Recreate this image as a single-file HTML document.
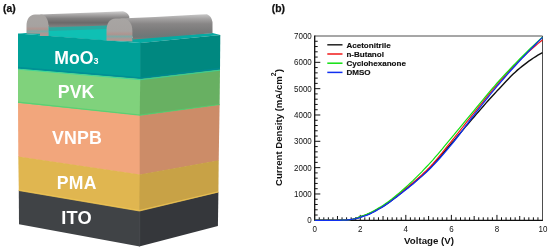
<!DOCTYPE html>
<html><head><meta charset="utf-8"><title>Figure</title>
<style>html,body{margin:0;padding:0;background:#fff}svg{display:block}</style></head>
<body>
<svg width="550" height="251" viewBox="0 0 550 251">
<defs>
<linearGradient id="bar1" x1="0" y1="0" x2="0" y2="1"><stop offset="0" stop-color="#cfcfcf"/><stop offset="0.22" stop-color="#a6a4a4"/><stop offset="0.45" stop-color="#807e7e"/><stop offset="0.7" stop-color="#6c6a6a"/><stop offset="0.88" stop-color="#7c7a7a"/><stop offset="1" stop-color="#6e8e8a"/></linearGradient>
<linearGradient id="bar2" x1="0" y1="0" x2="0" y2="1"><stop offset="0" stop-color="#c8c8c8"/><stop offset="0.18" stop-color="#a4a2a2"/><stop offset="0.38" stop-color="#888686"/><stop offset="0.65" stop-color="#7a7a7a"/><stop offset="0.9" stop-color="#6c7878"/><stop offset="1" stop-color="#8a7a76"/></linearGradient>
<linearGradient id="face" x1="0" y1="0" x2="0" y2="1"><stop offset="0" stop-color="#a8a5a3"/><stop offset="0.55" stop-color="#a6a2a0"/><stop offset="0.68" stop-color="#b0948f"/><stop offset="0.78" stop-color="#7fa8a4"/><stop offset="0.9" stop-color="#b09692"/><stop offset="1" stop-color="#a89a96"/></linearGradient>
<linearGradient id="topf" x1="0" y1="0" x2="0" y2="1"><stop offset="0" stop-color="#2a9c98"/><stop offset="0.5" stop-color="#22bdb4"/><stop offset="1" stop-color="#18b4ac"/></linearGradient>
</defs>
<rect width="550" height="251" fill="#fff"/>
<polygon points="18,33.5 140.5,43 220.3,35 212.5,33 133,38 107,23.5 49,26 26.5,33" fill="#05aaa2"/>
<polygon points="48,35.8 107,40.4 107,23.5 48,26" fill="#0fc0b4"/>
<polygon points="49,27 107,25 107,29 49,31" fill="#2aa8a0"/>
<polygon points="18.0,33.5 140.8,43.0 140.8,79.2 18.0,69.3" fill="#00a098"/>
<polygon points="140.2,43.0 220.3,35.0 220.0,70.0 140.2,79.2" fill="#008880"/>
<polygon points="18.0,68.8 140.8,78.7 140.3,116.1 18.0,103.4" fill="#80d27c"/>
<polygon points="140.2,78.7 220.0,69.5 219.6,105.3 139.7,116.1" fill="#68b062"/>
<polygon points="18.0,102.9 140.3,115.6 140.3,175.0 18.3,156.9" fill="#f2a67c"/>
<polygon points="139.7,115.6 219.6,104.8 218.7,160.8 139.7,175.0" fill="#cc8c68"/>
<polygon points="18.3,156.4 140.3,174.5 139.8,211.5 18.8,191.1" fill="#e0b650"/>
<polygon points="139.7,174.5 218.7,160.3 218.4,192.8 139.2,211.5" fill="#c8a246"/>
<polygon points="18.8,190.6 139.8,211.0 139.8,246.5 19.0,224.2" fill="#404346"/>
<polygon points="139.2,211.0 218.4,192.3 217.9,226.0 139.2,246.5" fill="#35373b"/>
<path d="M18 67.6 L140.5 78.1 L220 68.6" fill="none" stroke="#008a94" stroke-width="1.6" opacity="0.7"/>
<path d="M18 69.2 L140.5 79.7 L220 70.2" fill="none" stroke="#30d8a0" stroke-width="1" opacity="0.8"/>
<path d="M18 102.2 L140 115.1 L219.6 104.5" fill="none" stroke="#50d070" stroke-width="1.2" opacity="0.8"/>
<path d="M18.8 190.2 L139.5 210.8 L218.4 191.9" fill="none" stroke="#f0c654" stroke-width="1.4" opacity="0.8"/>
<path d="M139.6 212 V246" stroke="#484a4d" stroke-width="1.2" opacity="0.8"/>
<path d="M40 14.4 L100 12.2 L123 11.3 Q127.5 12.4 129.3 16.5 L129.5 25.2 L107 25.5 L49 27.6 L45 18 Z" fill="url(#bar1)"/>
<path d="M26.5 33.6 L26.5 26 C26.5 19.5 29.5 14.5 35 14.5 L41 14.5 C45.8 14.5 48.6 20 48.6 27 L48.6 36 L40 36 L40 33.8 Z" fill="url(#face)"/>
<path d="M120 18.4 L155 17 L200 14.5 L207 14.2 Q211.5 16 212.5 22 L212.5 33.3 L133 39.6 L128 22 Z" fill="url(#bar2)"/>
<path d="M106.5 40.4 L106.5 30 C106.5 23.5 109.8 18.5 115.5 18.5 L123 18.5 C128.8 18.5 132.4 24 132.4 31 L132.4 41.6 Z" fill="url(#face)"/>
<text x="54.3" y="63.8" font-family="Liberation Sans, Arial, sans-serif" font-weight="bold" font-size="17.6" fill="#fff" >MoO<tspan font-size="9" dy="0.4">3</tspan></text>
<text x="57.8" y="97.7" font-family="Liberation Sans, Arial, sans-serif" font-weight="bold" font-size="17.8" fill="#fff" >PVK</text>
<text x="52.0" y="143.8" font-family="Liberation Sans, Arial, sans-serif" font-weight="bold" font-size="17.8" fill="#fff" letter-spacing="0.15">VNPB</text>
<text x="56.7" y="189.3" font-family="Liberation Sans, Arial, sans-serif" font-weight="bold" font-size="17.6" fill="#fff" letter-spacing="0.3">PMA</text>
<text x="61.3" y="224.4" font-family="Liberation Sans, Arial, sans-serif" font-weight="bold" font-size="18.2" fill="#fff" letter-spacing="0.2">ITO</text>
<text x="3.0" y="12.3" font-family="Liberation Sans, Arial, sans-serif" font-weight="bold" font-size="10.3" fill="#111" stroke="#111" stroke-width="0.25">(a)</text>
<text x="271.8" y="12.4" font-family="Liberation Sans, Arial, sans-serif" font-weight="bold" font-size="10.3" fill="#111" stroke="#111" stroke-width="0.25">(b)</text>
<path d="M314.7 36.0 H542.5 V220.3" fill="none" stroke="#3a3a3a" stroke-width="0.9"/>
<path d="M314.7 35.6 V220.3 H542.9" fill="none" stroke="#111" stroke-width="1.3"/>
<path d="M319.26 220.3 v-3.0 M323.81 220.3 v-3.0 M328.37 220.3 v-3.0 M332.92 220.3 v-3.0 M337.48 220.3 v-4.3 M342.04 220.3 v-3.0 M346.59 220.3 v-3.0 M351.15 220.3 v-3.0 M355.70 220.3 v-3.0 M360.26 220.3 v-5.4 M364.82 220.3 v-3.0 M369.37 220.3 v-3.0 M373.93 220.3 v-3.0 M378.48 220.3 v-3.0 M383.04 220.3 v-4.3 M387.60 220.3 v-3.0 M392.15 220.3 v-3.0 M396.71 220.3 v-3.0 M401.26 220.3 v-3.0 M405.82 220.3 v-5.4 M410.38 220.3 v-3.0 M414.93 220.3 v-3.0 M419.49 220.3 v-3.0 M424.04 220.3 v-3.0 M428.60 220.3 v-4.3 M433.16 220.3 v-3.0 M437.71 220.3 v-3.0 M442.27 220.3 v-3.0 M446.82 220.3 v-3.0 M451.38 220.3 v-5.4 M455.94 220.3 v-3.0 M460.49 220.3 v-3.0 M465.05 220.3 v-3.0 M469.60 220.3 v-3.0 M474.16 220.3 v-4.3 M478.72 220.3 v-3.0 M483.27 220.3 v-3.0 M487.83 220.3 v-3.0 M492.38 220.3 v-3.0 M496.94 220.3 v-5.4 M501.50 220.3 v-3.0 M506.05 220.3 v-3.0 M510.61 220.3 v-3.0 M515.16 220.3 v-3.0 M519.72 220.3 v-4.3 M524.28 220.3 v-3.0 M528.83 220.3 v-3.0 M533.39 220.3 v-3.0 M537.94 220.3 v-3.0 M314.7 215.03 h3.0 M314.7 209.77 h3.0 M314.7 204.50 h3.0 M314.7 199.24 h3.0 M314.7 193.97 h5.6 M314.7 188.71 h3.0 M314.7 183.44 h3.0 M314.7 178.17 h3.0 M314.7 172.91 h3.0 M314.7 167.64 h5.6 M314.7 162.38 h3.0 M314.7 157.11 h3.0 M314.7 151.85 h3.0 M314.7 146.58 h3.0 M314.7 141.31 h5.6 M314.7 136.05 h3.0 M314.7 130.78 h3.0 M314.7 125.52 h3.0 M314.7 120.25 h3.0 M314.7 114.99 h5.6 M314.7 109.72 h3.0 M314.7 104.45 h3.0 M314.7 99.19 h3.0 M314.7 93.92 h3.0 M314.7 88.66 h5.6 M314.7 83.39 h3.0 M314.7 78.13 h3.0 M314.7 72.86 h3.0 M314.7 67.59 h3.0 M314.7 62.33 h5.6 M314.7 57.06 h3.0 M314.7 51.80 h3.0 M314.7 46.53 h3.0 M314.7 41.27 h3.0" stroke="#111" stroke-width="1" fill="none"/>
<text transform="translate(314.7 231.9) scale(0.94 1)" text-anchor="middle" font-family="Liberation Sans, Arial, sans-serif" font-size="8.5" fill="#111">0</text>
<text transform="translate(360.3 231.9) scale(0.94 1)" text-anchor="middle" font-family="Liberation Sans, Arial, sans-serif" font-size="8.5" fill="#111">2</text>
<text transform="translate(405.8 231.9) scale(0.94 1)" text-anchor="middle" font-family="Liberation Sans, Arial, sans-serif" font-size="8.5" fill="#111">4</text>
<text transform="translate(451.4 231.9) scale(0.94 1)" text-anchor="middle" font-family="Liberation Sans, Arial, sans-serif" font-size="8.5" fill="#111">6</text>
<text transform="translate(496.9 231.9) scale(0.94 1)" text-anchor="middle" font-family="Liberation Sans, Arial, sans-serif" font-size="8.5" fill="#111">8</text>
<text transform="translate(543.0 231.9) scale(0.94 1)" text-anchor="middle" font-family="Liberation Sans, Arial, sans-serif" font-size="8.5" fill="#111">10</text>
<text transform="translate(311.8 223.4) scale(0.94 1)" text-anchor="end" font-family="Liberation Sans, Arial, sans-serif" font-size="8.5" fill="#111">0</text>
<text transform="translate(311.8 197.1) scale(0.94 1)" text-anchor="end" font-family="Liberation Sans, Arial, sans-serif" font-size="8.5" fill="#111">1000</text>
<text transform="translate(311.8 170.7) scale(0.94 1)" text-anchor="end" font-family="Liberation Sans, Arial, sans-serif" font-size="8.5" fill="#111">2000</text>
<text transform="translate(311.8 144.4) scale(0.94 1)" text-anchor="end" font-family="Liberation Sans, Arial, sans-serif" font-size="8.5" fill="#111">3000</text>
<text transform="translate(311.8 118.1) scale(0.94 1)" text-anchor="end" font-family="Liberation Sans, Arial, sans-serif" font-size="8.5" fill="#111">4000</text>
<text transform="translate(311.8 91.8) scale(0.94 1)" text-anchor="end" font-family="Liberation Sans, Arial, sans-serif" font-size="8.5" fill="#111">5000</text>
<text transform="translate(311.8 65.4) scale(0.94 1)" text-anchor="end" font-family="Liberation Sans, Arial, sans-serif" font-size="8.5" fill="#111">6000</text>
<text transform="translate(311.8 39.1) scale(0.94 1)" text-anchor="end" font-family="Liberation Sans, Arial, sans-serif" font-size="8.5" fill="#111">7000</text>
<text x="429" y="244.2" text-anchor="middle" font-family="Liberation Sans, Arial, sans-serif" font-weight="bold" font-size="9.7" fill="#111">Voltage (V)</text>
<text transform="translate(282.4 186.0) rotate(-90)" font-family="Liberation Sans, Arial, sans-serif" font-weight="bold" font-size="9.6" fill="#111">Current Density (mA/cm<tspan font-size="7" dy="-6.2">2</tspan><tspan dy="6.2">)</tspan></text>
<path d="M314.7 220.30 L317.0 220.30 L319.3 220.30 L321.5 220.30 L323.8 220.30 L326.1 220.30 L328.4 220.30 L330.6 220.30 L332.9 220.30 L335.2 220.30 L337.5 220.30 L339.8 220.28 L342.0 220.21 L344.3 220.12 L346.6 220.00 L348.9 219.81 L351.1 219.49 L353.4 219.10 L355.7 218.54 L358.0 217.79 L360.3 217.00 L362.5 216.23 L364.8 215.42 L367.1 214.55 L369.4 213.60 L371.6 212.52 L373.9 211.32 L376.2 210.05 L378.5 208.80 L380.8 207.59 L383.0 206.30 L385.3 204.86 L387.6 203.32 L389.9 201.71 L392.2 200.04 L394.4 198.30 L396.7 196.53 L399.0 194.72 L401.3 192.89 L403.5 191.04 L405.8 189.20 L408.1 187.36 L410.4 185.49 L412.7 183.61 L414.9 181.70 L417.2 179.76 L419.5 177.77 L421.8 175.74 L424.0 173.66 L426.3 171.51 L428.6 169.30 L430.9 166.99 L433.2 164.58 L435.4 162.08 L437.7 159.51 L440.0 156.88 L442.3 154.21 L444.5 151.52 L446.8 148.83 L449.1 146.15 L451.4 143.50 L453.7 140.86 L455.9 138.19 L458.2 135.50 L460.5 132.79 L462.8 130.09 L465.0 127.38 L467.3 124.68 L469.6 122.00 L471.9 119.33 L474.2 116.70 L476.4 114.08 L478.7 111.46 L481.0 108.84 L483.3 106.24 L485.5 103.65 L487.8 101.08 L490.1 98.53 L492.4 96.02 L494.7 93.54 L496.9 91.10 L499.2 88.67 L501.5 86.22 L503.8 83.77 L506.1 81.34 L508.3 78.95 L510.6 76.61 L512.9 74.35 L515.2 72.18 L517.4 70.13 L519.7 68.20 L522.0 66.37 L524.3 64.58 L526.6 62.86 L528.8 61.18 L531.1 59.57 L533.4 58.03 L535.7 56.56 L537.9 55.16 L540.2 53.84 L542.5 52.60" fill="none" stroke="#111" stroke-width="1.4" stroke-linejoin="round"/>
<path d="M314.7 220.30 L317.0 220.30 L319.3 220.30 L321.5 220.30 L323.8 220.30 L326.1 220.30 L328.4 220.30 L330.6 220.30 L332.9 220.30 L335.2 220.30 L337.5 220.30 L339.8 220.28 L342.0 220.21 L344.3 220.12 L346.6 220.00 L348.9 219.81 L351.1 219.49 L353.4 219.10 L355.7 218.54 L358.0 217.79 L360.3 217.00 L362.5 216.23 L364.8 215.42 L367.1 214.55 L369.4 213.60 L371.6 212.51 L373.9 211.29 L376.2 210.00 L378.5 208.70 L380.8 207.40 L383.0 206.00 L385.3 204.48 L387.6 202.88 L389.9 201.22 L392.2 199.51 L394.4 197.74 L396.7 195.94 L399.0 194.10 L401.3 192.25 L403.5 190.38 L405.8 188.50 L408.1 186.62 L410.4 184.74 L412.7 182.84 L414.9 180.91 L417.2 178.94 L419.5 176.94 L421.8 174.88 L424.0 172.76 L426.3 170.57 L428.6 168.30 L430.9 165.92 L433.2 163.42 L435.4 160.82 L437.7 158.14 L440.0 155.39 L442.3 152.59 L444.5 149.77 L446.8 146.93 L449.1 144.10 L451.4 141.30 L453.7 138.50 L455.9 135.66 L458.2 132.79 L460.5 129.90 L462.8 127.00 L465.0 124.10 L467.3 121.20 L469.6 118.31 L471.9 115.44 L474.2 112.60 L476.4 109.77 L478.7 106.93 L481.0 104.10 L483.3 101.26 L485.5 98.45 L487.8 95.65 L490.1 92.88 L492.4 90.14 L494.7 87.45 L496.9 84.80 L499.2 82.18 L501.5 79.57 L503.8 76.98 L506.1 74.42 L508.3 71.89 L510.6 69.40 L512.9 66.96 L515.2 64.57 L517.4 62.25 L519.7 60.00 L522.0 57.80 L524.3 55.65 L526.6 53.53 L528.8 51.46 L531.1 49.43 L533.4 47.45 L535.7 45.51 L537.9 43.62 L540.2 41.79 L542.5 40.00" fill="none" stroke="#f01818" stroke-width="1.2" stroke-linejoin="round"/>
<path d="M314.7 220.30 L317.0 220.30 L319.3 220.30 L321.5 220.30 L323.8 220.30 L326.1 220.30 L328.4 220.30 L330.6 220.30 L332.9 220.30 L335.2 220.30 L337.5 220.30 L339.8 220.28 L342.0 220.21 L344.3 220.12 L346.6 220.00 L348.9 219.81 L351.1 219.50 L353.4 219.10 L355.7 218.45 L358.0 217.53 L360.3 216.60 L362.5 215.77 L364.8 214.94 L367.1 214.07 L369.4 213.10 L371.6 211.98 L373.9 210.74 L376.2 209.42 L378.5 208.10 L380.8 206.80 L383.0 205.40 L385.3 203.86 L387.6 202.23 L389.9 200.53 L392.2 198.77 L394.4 196.94 L396.7 195.07 L399.0 193.15 L401.3 191.19 L403.5 189.21 L405.8 187.20 L408.1 185.15 L410.4 183.05 L412.7 180.90 L414.9 178.69 L417.2 176.44 L419.5 174.14 L421.8 171.81 L424.0 169.44 L426.3 167.03 L428.6 164.60 L430.9 162.11 L433.2 159.56 L435.4 156.94 L437.7 154.28 L440.0 151.58 L442.3 148.86 L444.5 146.11 L446.8 143.37 L449.1 140.63 L451.4 137.90 L453.7 135.17 L455.9 132.43 L458.2 129.67 L460.5 126.90 L462.8 124.12 L465.0 121.34 L467.3 118.57 L469.6 115.80 L471.9 113.04 L474.2 110.30 L476.4 107.56 L478.7 104.81 L481.0 102.05 L483.3 99.30 L485.5 96.56 L487.8 93.83 L490.1 91.13 L492.4 88.46 L494.7 85.83 L496.9 83.25 L499.2 80.71 L501.5 78.19 L503.8 75.70 L506.1 73.24 L508.3 70.80 L510.6 68.39 L512.9 66.00 L515.2 63.64 L517.4 61.31 L519.7 59.00 L522.0 56.72 L524.3 54.45 L526.6 52.21 L528.8 50.00 L531.1 47.80 L533.4 45.63 L535.7 43.49 L537.9 41.37 L540.2 39.27 L542.5 37.20" fill="none" stroke="#10e010" stroke-width="1.2" stroke-linejoin="round"/>
<path d="M314.7 220.30 L317.0 220.30 L319.3 220.30 L321.5 220.30 L323.8 220.30 L326.1 220.30 L328.4 220.30 L330.6 220.30 L332.9 220.30 L335.2 220.30 L337.5 220.30 L339.8 220.28 L342.0 220.21 L344.3 220.12 L346.6 220.00 L348.9 219.80 L351.1 219.48 L353.4 219.10 L355.7 218.63 L358.0 218.05 L360.3 217.40 L362.5 216.69 L364.8 215.91 L367.1 215.04 L369.4 214.10 L371.6 213.04 L373.9 211.85 L376.2 210.59 L378.5 209.30 L380.8 208.00 L383.0 206.60 L385.3 205.10 L387.6 203.55 L389.9 201.94 L392.2 200.29 L394.4 198.59 L396.7 196.86 L399.0 195.10 L401.3 193.32 L403.5 191.52 L405.8 189.70 L408.1 187.87 L410.4 186.03 L412.7 184.17 L414.9 182.27 L417.2 180.34 L419.5 178.38 L421.8 176.37 L424.0 174.30 L426.3 172.18 L428.6 170.00 L430.9 167.74 L433.2 165.41 L435.4 163.01 L437.7 160.54 L440.0 158.01 L442.3 155.43 L444.5 152.80 L446.8 150.13 L449.1 147.43 L451.4 144.70 L453.7 141.90 L455.9 139.01 L458.2 136.05 L460.5 133.02 L462.8 129.97 L465.0 126.89 L467.3 123.81 L469.6 120.76 L471.9 117.75 L474.2 114.80 L476.4 111.89 L478.7 108.98 L481.0 106.08 L483.3 103.19 L485.5 100.32 L487.8 97.48 L490.1 94.66 L492.4 91.87 L494.7 89.11 L496.9 86.40 L499.2 83.72 L501.5 81.07 L503.8 78.45 L506.1 75.86 L508.3 73.29 L510.6 70.75 L512.9 68.23 L515.2 65.73 L517.4 63.25 L519.7 60.80 L522.0 58.37 L524.3 55.95 L526.6 53.56 L528.8 51.18 L531.1 48.83 L533.4 46.50 L535.7 44.19 L537.9 41.91 L540.2 39.64 L542.5 37.40" fill="none" stroke="#1030f0" stroke-width="1.3" stroke-linejoin="round"/>
<path d="M327.3 44.8 H342.5" stroke="#222" stroke-width="1.5"/>
<text x="346.4" y="47.6" font-family="Liberation Sans, Arial, sans-serif" font-weight="bold" font-size="8.05" fill="#111" stroke="#111" stroke-width="0.15">Acetonitrile</text>
<path d="M327.3 54.0 H342.5" stroke="#f01818" stroke-width="1.5"/>
<text x="346.4" y="56.9" font-family="Liberation Sans, Arial, sans-serif" font-weight="bold" font-size="8.05" fill="#111" stroke="#111" stroke-width="0.15">n-Butanol</text>
<path d="M327.3 63.2 H342.5" stroke="#10e010" stroke-width="1.5"/>
<text x="346.4" y="66.0" font-family="Liberation Sans, Arial, sans-serif" font-weight="bold" font-size="8.05" fill="#111" stroke="#111" stroke-width="0.15">Cyclohexanone</text>
<path d="M327.3 72.4 H342.5" stroke="#1030f0" stroke-width="1.5"/>
<text x="346.4" y="75.2" font-family="Liberation Sans, Arial, sans-serif" font-weight="bold" font-size="8.05" fill="#111" stroke="#111" stroke-width="0.15">DMSO</text>
</svg>
</body></html>
